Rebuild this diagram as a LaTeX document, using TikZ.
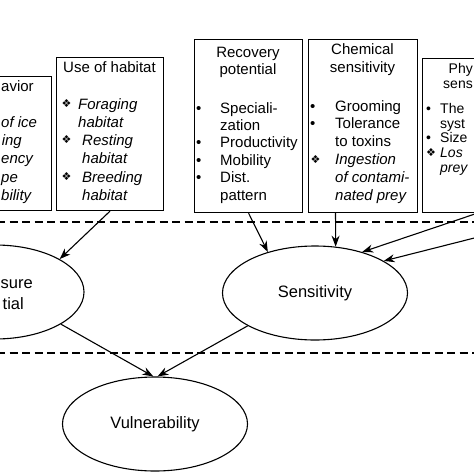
\documentclass[tikz,border=0pt]{standalone}
\usepackage{fontspec}
\setmainfont{Liberation Sans}
\newfontfamily\dejavu{DejaVu Sans}
\usetikzlibrary{shapes.geometric,arrows.meta,calc}
\newcommand{\fourdia}{{\dejavu\fontsize{11}{11}\selectfont ❖}}
\begin{document}
\begin{tikzpicture}[x=1pt,y=-1pt,font=\fontsize{15}{18}\selectfont,
  boxst/.style={draw,line width=1.1pt,inner sep=0pt},
  ellst/.style={draw,ellipse,line width=1.1pt,inner sep=0pt,font=\fontsize{16.5}{20}\selectfont},
  txt/.style={inner sep=0pt,anchor=base west},
  txtc/.style={inner sep=0pt,anchor=base},
  txte/.style={inner sep=0pt,anchor=base east},
  itx/.style={txt,font=\fontsize{15}{18}\selectfont\itshape},
  itxe/.style={txte,font=\fontsize{15}{18}\selectfont\itshape},
  ptx/.style={txt,font=\fontsize{14}{16}\selectfont},
  pitx/.style={txt,font=\fontsize{14}{16}\selectfont\itshape},
  mark4/.style={inner sep=0pt,anchor=center},
  arr/.style={-{Stealth[length=11pt,width=8pt]},line width=1.1pt},
  dashst/.style={line width=1.2pt,dash pattern=on 8pt off 4.5pt}]
\useasboundingbox (0,0) rectangle (474,474);
\clip (0,0) rectangle (474,474);
\fill[white] (0,0) rectangle (474,474);

% dashed separators
\coordinate (d1a) at (-3,222); \coordinate (d1b) at (480,222);
\coordinate (d2a) at (-3,353); \coordinate (d2b) at (480,353);
\draw[dashst] (d1a) -- (d1b);
\draw[dashst] (d2a) -- (d2b);

% boxes
\node[boxst,anchor=north east,minimum width=80pt,minimum height=134pt] (behav) at (52,76) {};
\node[boxst,anchor=north west,minimum width=107pt,minimum height=153pt] (use) at (56,57) {};
\node[boxst,anchor=north west,minimum width=108pt,minimum height=173pt] (rec) at (194,39) {};
\node[boxst,anchor=north west,minimum width=109pt,minimum height=173pt] (chem) at (308,39) {};
\node[boxst,anchor=north west,minimum width=110pt,minimum height=154pt] (phys) at (422,58) {};

% behaviour box fragments
\node[txt] (b0) at (1,91) {avior};
\node[itx] (b1) at (1,127) {of ice};
\node[itxe] (b2) at (22,145) {ing};
\node[itx] (b3) at (1,163) {ency};
\node[itx] (b4) at (1,182) {pe};
\node[itx] (b5) at (1,200) {bility};

% use of habitat
\node[txtc] (u0) at (109.5,72) {Use of habitat};
\node[mark4] (um1) at (66.5,104) {\fourdia};
\node[itx] (u1) at (78,109) {Foraging};
\node[itx] (u2) at (78,127) {habitat};
\node[mark4] (um2) at (66.5,140) {\fourdia};
\node[itx] (u3) at (82,145) {Resting};
\node[itx] (u4) at (82,163) {habitat};
\node[mark4] (um3) at (66.5,177) {\fourdia};
\node[itx] (u5) at (82,182) {Breeding};
\node[itx] (u6) at (82,200) {habitat};

% recovery potential
\node[txtc] (r0) at (248,57) {Recovery};
\node[txtc] (r1) at (248,74) {potential};
\node[txt] (rb1) at (196,113) {•};
\node[txt] (r2) at (220,113) {Speciali-};
\node[txt] (r3) at (220,130.4) {zation};
\node[txt] (rb2) at (196,147.8) {•};
\node[txt] (r4) at (220,147.8) {Productivity};
\node[txt] (rb3) at (196,165.2) {•};
\node[txt] (r5) at (220,165.2) {Mobility};
\node[txt] (rb4) at (196,182.6) {•};
\node[txt] (r6) at (220,182.6) {Dist.};
\node[txt] (r7) at (220,200) {pattern};

% chemical sensitivity
\node[txtc] (c0) at (362.5,54.5) {Chemical};
\node[txtc] (c1) at (362.5,72.5) {sensitivity};
\node[txt] (cb1) at (310,111) {•};
\node[txt] (c2) at (335,111) {Grooming};
\node[txt] (cb2) at (310,128.8) {•};
\node[txt] (c3) at (335,128.8) {Tolerance};
\node[txt] (c4) at (335,146.6) {to toxins};
\node[mark4] (cm1) at (315.5,159.4) {\fourdia};
\node[itx] (c5) at (335,164.4) {Ingestion};
\node[itx] (c6) at (335,182.2) {of contami-};
\node[itx] (c7) at (335,200) {nated prey};

% physical sensitivity fragments
\node[ptx,anchor=base east] (p0) at (473,73) {Phy};
\node[ptx,anchor=base east] (p1) at (473,88.5) {sens};
\node[ptx] (pb1) at (426,113) {•};
\node[ptx] (p2) at (440,113) {The};
\node[ptx] (p3) at (440,128) {syst};
\node[ptx] (pb2) at (426,142.5) {•};
\node[ptx] (p4) at (440,142.5) {Size};
\node[mark4] (pm1) at (431,152.5) {\fourdia};
\node[pitx] (p5) at (440,157.5) {Los};
\node[pitx] (p6) at (440,172.5) {prey};

% ellipses
\node[ellst,minimum width=178pt,minimum height=94pt] (expo) at (-5,292) {};
\node[txt,font=\fontsize{16.5}{20}\selectfont] (e1) at (0.5,288.5) {sure};
\node[txte,font=\fontsize{16.5}{20}\selectfont] (e2) at (24,309) {tial};
\node[ellst,minimum width=185pt,minimum height=94pt] (sens) at (315,293) {Sensitivity};
\node[ellst,minimum width=185pt,minimum height=94pt] (vuln) at (155,424) {Vulnerability};

% connectors
\coordinate (chemfoot) at ($(chem.south west)!0.25!(chem.south east)$);
\coordinate (offr) at (577,212);
\draw[arr] (use.south) -- (expo.27);
\draw[arr] (rec.south) -- (sens.139);
\draw[arr] (chemfoot) -- (sens.66.5);
\draw[arr] (phys.south) -- (sens.41);
\draw[arr] (offr) -- (sens.25);
\draw[arr] (expo.-26) -- (vuln.92.5);
\draw[arr] (sens.206) -- (vuln.87.5);
\end{tikzpicture}
\end{document}
